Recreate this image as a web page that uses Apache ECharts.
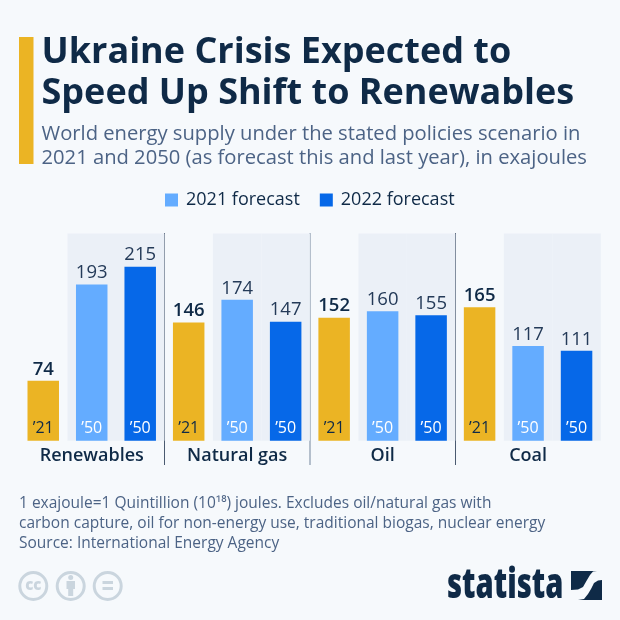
<!DOCTYPE html>
<html>
<head>
<meta charset="utf-8">
<title>Ukraine Crisis Expected to Speed Up Shift to Renewables</title>
<script src="https://cdn.jsdelivr.net/npm/echarts@6/dist/echarts.min.js"></script>
<style>
html, body { margin: 0; padding: 0; background: #f6f9fc; }
#main { width: 620px; height: 620px; }
</style>
</head>
<body>
<div id="main"></div>
<script>
// one slot per bar, the group name sits on the middle slot of each group
var slots = ["", "Renewables", "", "", "Natural gas", "", "", "Oil", "", "", "Coal", ""];
var yearTags = ["\u201921", "\u201950", "\u201950", "\u201921", "\u201950", "\u201950", "\u201921", "\u201950", "\u201950", "\u201921", "\u201950", "\u201950"];
var actual2021 = [74, null, null, 146, null, null, 152, null, null, 165, null, null];
var forecast2021 = [null, 193, null, null, 174, null, null, 160, null, null, 117, null];
var forecast2022 = [null, null, 215, null, null, 147, null, null, 155, null, null, 111];
var shadeBand = [null, 256, 256, null, 256, 256, null, 256, 256, null, 256, 256];

var fontName = "Open Sans";
var dark = "#0f2a47";
var grey = "#4c6385";
var yellow = "#ebb424";
var lightBlue = "#64acff";
var strongBlue = "#0668e8";
var badge = "#cad5de";

function valueSeries(name, values, color, weight, labelColor) {
    return {
        name: name,
        type: "bar",
        data: values,
        barWidth: 31.5,
        barGap: "-100%",
        z: 3,
        itemStyle: { color: color },
        label: {
            show: true,
            position: "top",
            distance: 2,
            fontFamily: fontName,
            fontSize: 18.5,
            fontWeight: weight,
            color: labelColor
        }
    };
}

// the '21 / '50 tags inside the foot of every bar
function tagData() {
    var list = [];
    for (var i = 0; i < yearTags.length; i++) {
        var v = actual2021[i] || forecast2021[i] || forecast2022[i];
        list.push({
            value: v,
            label: { formatter: yearTags[i], color: yearTags[i].indexOf("21") > 0 ? dark : "#ffffff" }
        });
    }
    return list;
}

var myChart = echarts.init(document.getElementById("main"));

myChart.setOption({
    backgroundColor: "#f6f9fc",
    animation: false,
    title: [
        {
            text: "Ukraine Crisis Expected to\nSpeed Up Shift to Renewables",
            left: 36.5, top: 27,
            textStyle: { fontFamily: fontName, fontSize: 36, fontWeight: 700, color: dark, lineHeight: 41 }
        },
        {
            text: "World energy supply under the stated policies scenario in\n2021 and 2050 (as forecast this and last year), in exajoules",
            left: 36.5, top: 117,
            textStyle: { fontFamily: fontName, fontSize: 20.2, fontWeight: 400, color: grey, lineHeight: 24 }
        },
        {
            text: "1 exajoule=1 Quintillion (10\u00b9\u2078) joules. Excludes oil/natural gas with\ncarbon capture, oil for non-energy use, traditional biogas, nuclear energy",
            left: 14, top: 489,
            textStyle: { fontFamily: fontName, fontSize: 15.5, fontWeight: 400, color: grey, lineHeight: 19.5 }
        },
        {
            text: "Source: International Energy Agency",
            left: 14, top: 529,
            textStyle: { fontFamily: fontName, fontSize: 15.5, fontWeight: 400, color: grey, lineHeight: 20 }
        }
    ],
    legend: {
        data: ["2021 forecast", "2022 forecast"],
        left: 160, top: 186,
        itemWidth: 13, itemHeight: 13, itemGap: 20,
        icon: "rect",
        selectedMode: false,
        textStyle: { fontFamily: fontName, fontSize: 18, color: dark, padding: [0, 0, 0, 3] }
    },
    grid: { left: 19, top: 233.5, width: 581.8, height: 207.2 },
    xAxis: [
        {
            type: "category",
            data: slots,
            axisLine: { show: false },
            axisTick: { show: false },
            axisLabel: {
                interval: 0,
                margin: 6,
                fontFamily: fontName,
                fontSize: 18,
                fontWeight: 600,
                color: dark
            }
        },
        { type: "category", data: slots, show: false }
    ],
    yAxis: { type: "value", min: 0, max: 256, show: false },
    series: [
        {
            name: "shade",
            type: "bar",
            xAxisIndex: 1,
            data: shadeBand,
            barWidth: "100%",
            z: 1,
            silent: true,
            itemStyle: { color: "#ebf0f7" }
        },
        valueSeries("2021 actual", actual2021, yellow, 600, dark),
        valueSeries("2021 forecast", forecast2021, lightBlue, 400, "#243a58"),
        valueSeries("2022 forecast", forecast2022, strongBlue, 400, "#243a58"),
        {
            name: "tags",
            type: "bar",
            data: tagData(),
            barWidth: 31.5,
            barGap: "-100%",
            z: 4,
            silent: true,
            itemStyle: { color: "transparent" },
            label: { show: true, position: "insideBottom", distance: 4, fontFamily: fontName, fontSize: 16 }
        }
    ],
    graphic: [
        { type: "rect", shape: { x: 19, y: 37, width: 14.5, height: 127 }, style: { fill: yellow } },
        // group separators
        { type: "line", shape: { x1: 164.5, y1: 233, x2: 164.5, y2: 465 }, style: { stroke: "#4a5a70", lineWidth: 1 } },
        { type: "line", shape: { x1: 310, y1: 233, x2: 310, y2: 465 }, style: { stroke: "#b4bfcc", lineWidth: 2 } },
        { type: "line", shape: { x1: 455.5, y1: 233, x2: 455.5, y2: 465 }, style: { stroke: "#4a5a70", lineWidth: 1 } },
        // licence badges
        { type: "circle", shape: { cx: 33.3, cy: 586, r: 13.5 }, style: { fill: "none", stroke: badge, lineWidth: 3 } },
        { type: "text", x: 33.3, y: 586, style: { text: "cc", fontFamily: "Open Sans", fontWeight: 800, fontSize: 15, fill: badge, align: "center", verticalAlign: "middle" } },
        { type: "circle", shape: { cx: 70.7, cy: 586, r: 13.5 }, style: { fill: "none", stroke: badge, lineWidth: 3 } },
        { type: "circle", shape: { cx: 70.7, cy: 577.5, r: 2.5 }, style: { fill: badge } },
        { type: "polygon", shape: { points: [[66.5, 581], [75, 581], [75, 589], [73.2, 589], [73.2, 596], [68.2, 596], [68.2, 589], [66.5, 589]] }, style: { fill: badge } },
        { type: "circle", shape: { cx: 107.7, cy: 586, r: 13.5 }, style: { fill: "none", stroke: badge, lineWidth: 3 } },
        { type: "rect", shape: { x: 102.5, y: 581, width: 10.5, height: 3 }, style: { fill: badge } },
        { type: "rect", shape: { x: 102.5, y: 587, width: 10.5, height: 3 }, style: { fill: badge } },
        // logo
        { type: "text", x: 447, y: 586, scaleX: 0.68, style: { text: "statista", fontFamily: "Open Sans", fontWeight: 800, fontSize: 43, fill: dark, align: "left", verticalAlign: "middle" } },
        { type: "rect", shape: { x: 571, y: 571, width: 31, height: 29 }, style: { fill: dark } },
        { type: "polygon", shape: { points: [[571, 590], [578, 589.5], [583, 587], [587, 580], [590, 575], [593, 571.5], [597, 571], [602, 571], [602, 580], [598, 580.5], [594, 583], [591, 589], [588, 594], [584, 599], [578, 600], [571, 600]] }, style: { fill: "#f6f9fc" } }
    ]
});
</script>
</body>
</html>
